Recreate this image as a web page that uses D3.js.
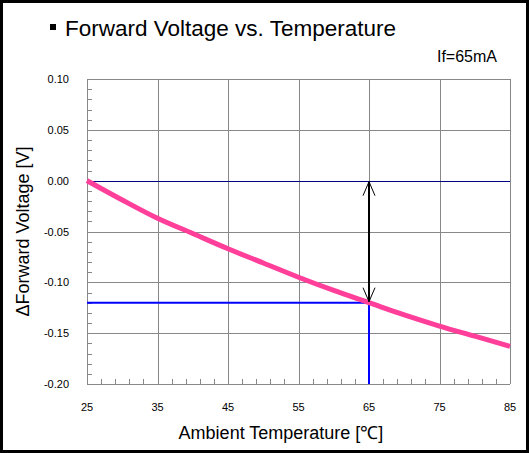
<!DOCTYPE html>
<html>
<head>
<meta charset="utf-8">
<script src="https://d3js.org/d3.v7.min.js"></script>
<style>
  body { margin: 0; background: #fff; }
  svg text { font-family: "Liberation Sans", Arial, sans-serif; fill: #000; }
</style>
</head>
<body>
<script>
// ambient temperature (degC) and delta forward voltage (V)
var temps = [25, 30, 35, 40, 45, 50, 55, 60, 65, 70, 75, 80, 85];
var deltaVf = [0, -0.019, -0.037, -0.052, -0.067, -0.081, -0.095, -0.108, -0.120, -0.132, -0.143, -0.153, -0.163];

var xTicks = [25, 35, 45, 55, 65, 75, 85];
var yTicks = [0.10, 0.05, 0.00, -0.05, -0.10, -0.15, -0.20];

// marked operating point
var markTemp = 65;
var markVf = -0.12;

var W = 529, H = 453;
var margin = {left: 87, right: 19, top: 79, bottom: 69};

var svg = d3.select("body").append("svg")
    .attr("width", W)
    .attr("height", H);

svg.append("rect")
    .attr("x", 1.5).attr("y", 1.5)
    .attr("width", W - 3).attr("height", H - 3)
    .attr("fill", "#fff")
    .attr("stroke", "#000")
    .attr("stroke-width", 3);

var x = d3.scaleLinear().domain([25, 85]).range([margin.left, W - margin.right]);
var y = d3.scaleLinear().domain([-0.20, 0.10]).range([H - margin.bottom, margin.top]);

var plot = svg.append("g");

// grid
plot.selectAll("line.vgrid")
  .data(xTicks)
  .enter().append("line")
    .attr("class", "vgrid")
    .attr("x1", function(d) { return Math.round(x(d)) + 0.5; })
    .attr("x2", function(d) { return Math.round(x(d)) + 0.5; })
    .attr("y1", y(0.10)).attr("y2", y(-0.20))
    .attr("stroke", "#888").attr("stroke-width", 1);

plot.selectAll("line.hgrid")
  .data(yTicks)
  .enter().append("line")
    .attr("class", "hgrid")
    .attr("x1", x(25)).attr("x2", x(85))
    .attr("y1", function(d) { return Math.round(y(d)) + 0.5; })
    .attr("y2", function(d) { return Math.round(y(d)) + 0.5; })
    .attr("stroke", "#888").attr("stroke-width", 1);

// minor ticks, pointing into the plot
var yMinor = d3.range(-0.20, 0.1001, 0.01);
plot.selectAll("line.ymin")
  .data(yMinor)
  .enter().append("line")
    .attr("x1", x(25)).attr("x2", x(25) + 5)
    .attr("y1", function(d) { return Math.round(y(d)) + 0.5; })
    .attr("y2", function(d) { return Math.round(y(d)) + 0.5; })
    .attr("stroke", "#888");

var xMinor = d3.range(25, 85.01, 2);
plot.selectAll("line.xmin")
  .data(xMinor)
  .enter().append("line")
    .attr("x1", function(d) { return Math.round(x(d)) + 0.5; })
    .attr("x2", function(d) { return Math.round(x(d)) + 0.5; })
    .attr("y1", y(-0.20)).attr("y2", y(-0.20) - 5)
    .attr("stroke", "#888");

// zero line
plot.append("line")
    .attr("x1", x(25)).attr("x2", x(85))
    .attr("y1", Math.round(y(0)) + 0.5).attr("y2", Math.round(y(0)) + 0.5)
    .attr("stroke", "#000080").attr("stroke-width", 1);

// tick labels
svg.selectAll("text.ylab")
  .data(yTicks)
  .enter().append("text")
    .attr("x", 69)
    .attr("y", function(d) { return y(d) + 4; })
    .attr("text-anchor", "end")
    .attr("font-size", 11)
    .text(function(d) { return d3.format(".2f")(d).replace("−", "-"); });

svg.selectAll("text.xlab")
  .data(xTicks)
  .enter().append("text")
    .attr("x", function(d) { return x(d); })
    .attr("y", 411)
    .attr("text-anchor", "middle")
    .attr("font-size", 11)
    .text(function(d) { return d; });

// blue guide lines to the operating point
plot.append("line")
    .attr("x1", x(25)).attr("x2", x(markTemp))
    .attr("y1", y(markVf)).attr("y2", y(markVf))
    .attr("stroke", "#0000ff").attr("stroke-width", 2);
plot.append("line")
    .attr("x1", x(markTemp)).attr("x2", x(markTemp))
    .attr("y1", y(markVf)).attr("y2", y(-0.20))
    .attr("stroke", "#0000ff").attr("stroke-width", 2);

// curve
var line = d3.line()
    .x(function(d, i) { return x(temps[i]); })
    .y(function(d) { return y(d); })
    .curve(d3.curveMonotoneX);

plot.append("path")
    .datum(deltaVf)
    .attr("d", line)
    .attr("fill", "none")
    .attr("stroke", "#ff3f9a")
    .attr("stroke-width", 5);

// double arrow from 0 down to the operating point
var ax = x(markTemp);
var yTop = y(0), yBot = y(markVf);
var arrow = plot.append("g").attr("stroke", "#000").attr("fill", "none");
arrow.append("line")
    .attr("x1", ax).attr("x2", ax)
    .attr("y1", yTop + 1).attr("y2", yBot - 1)
    .attr("stroke-width", 2);
arrow.append("path")
    .attr("d", "M" + (ax - 6) + "," + (yTop + 15) + "L" + ax + "," + (yTop + 1) + "L" + (ax + 6) + "," + (yTop + 15))
    .attr("stroke-width", 1);
arrow.append("path")
    .attr("d", "M" + (ax - 6) + "," + (yBot - 15) + "L" + ax + "," + (yBot - 1) + "L" + (ax + 6) + "," + (yBot - 15))
    .attr("stroke-width", 1);

// titles
svg.append("rect")
    .attr("x", 50).attr("y", 24).attr("width", 6).attr("height", 6)
    .attr("fill", "#000");
svg.append("text")
    .attr("x", 65).attr("y", 36)
    .attr("font-size", 22.5)
    .text("Forward Voltage vs. Temperature");

svg.append("text")
    .attr("x", 497).attr("y", 62)
    .attr("text-anchor", "end")
    .attr("font-size", 16)
    .text("If=65mA");

svg.append("text")
    .attr("x", 281).attr("y", 439)
    .attr("text-anchor", "middle")
    .attr("font-size", 18)
    .text("Ambient Temperature [℃]");

svg.append("text")
    .attr("transform", "translate(29," + ((y(0.10) + y(-0.20)) / 2) + ") rotate(-90)")
    .attr("text-anchor", "middle")
    .attr("font-size", 18)
    .text("ΔForward Voltage [V]");
</script>
</body>
</html>
